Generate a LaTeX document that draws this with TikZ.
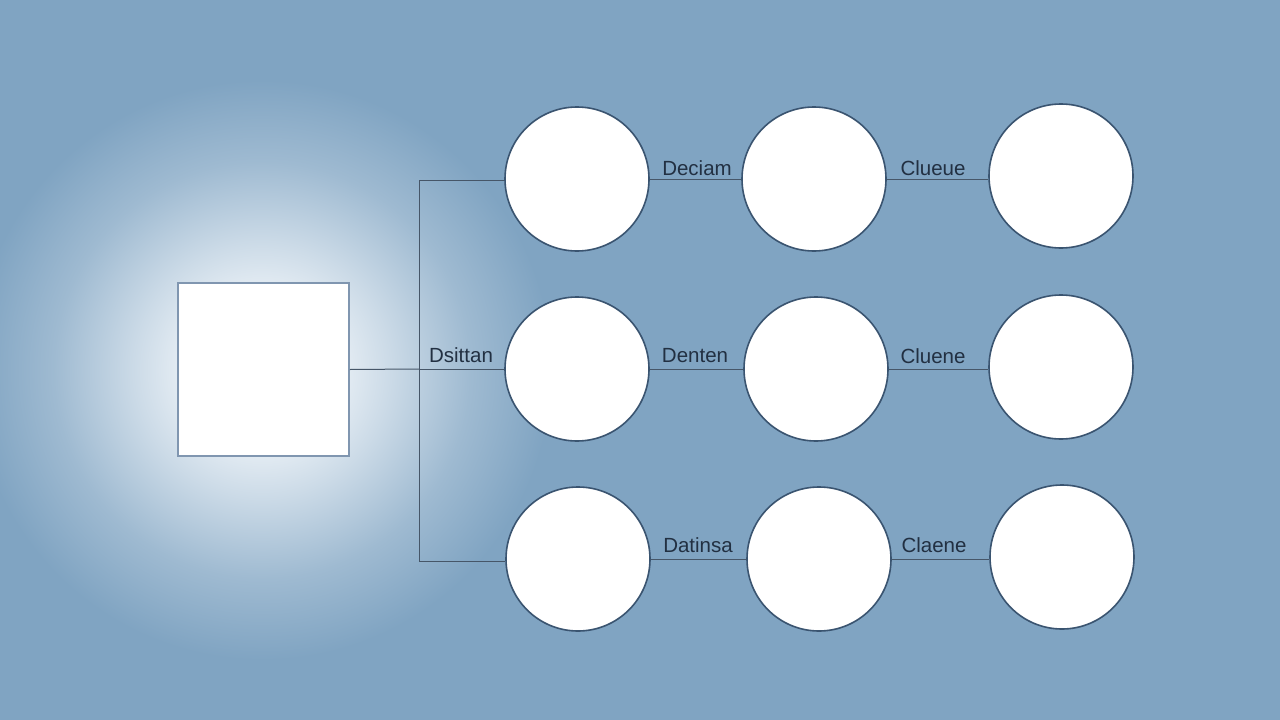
\documentclass[tikz,border=0pt]{standalone}
\usepackage{fontspec}
\setmainfont{Liberation Sans}
\usetikzlibrary{positioning}

\definecolor{bgblue}{RGB}{128,164,194}
\definecolor{glow}{RGB}{250,252,254}
\definecolor{ringcol}{RGB}{58,84,112}
\definecolor{wirecol}{RGB}{70,86,104}
\definecolor{boxedge}{RGB}{128,150,176}
\definecolor{txtcol}{RGB}{34,48,66}

\pgfdeclareradialshading{glowshade}{\pgfpoint{0bp}{0bp}}{%
  color(0bp)=(glow); color(5bp)=(glow!92!bgblue); color(11bp)=(glow!62!bgblue);
  color(18bp)=(glow!25!bgblue); color(25bp)=(bgblue); color(50bp)=(bgblue)}

\begin{document}
\begin{tikzpicture}[x=1pt, y=-1pt,
    ball/.style={circle, draw=ringcol, line width=1.6pt, fill=white, minimum size=144pt, inner sep=0pt},
    wire/.style={draw=wirecol, line width=1pt},
    tag/.style={text=txtcol, font=\fontsize{20.5}{20.5}\selectfont, inner sep=1pt}]
%%%%%%%%%%%%%%%%% background
\fill[bgblue] (0,0) rectangle (1280,720);
\useasboundingbox (0,0) rectangle (1280,720);
\shade[shading=glowshade] (262,370) circle (290);

%%%%%%%%%%%%%%%%% source box
\node[draw=boxedge, line width=1.5pt, fill=white, minimum width=171pt, minimum height=173pt, inner sep=0pt] (src) at (263.5,369.5) {};

%%%%%%%%%%%%%%%%% circles
\node[ball] (c11) at (577,179) {};
\node[ball] (c12) at (814,179) {};
\node[ball] (c13) at (1061,176) {};
\node[ball] (c21) at (577,369) {};
\node[ball] (c22) at (816,369) {};
\node[ball] (c23) at (1061,367) {};
\node[ball] (c31) at (578,559) {};
\node[ball] (c32) at (819,559) {};
\node[ball] (c33) at (1062,557) {};

%%%%%%%%%%%%%%%%% trunk
\coordinate (jt) at (419,180);
\coordinate (jm) at (419,369);
\coordinate (jb) at (419,561);
\draw[wire] (src.east) -- (jm);
\draw[wire] (jt) -- (jb);
\draw[wire] (jt) -- (c11.west |- jt);
\draw[wire] (jm) -- (c21.west |- jm);
\draw[wire] (jb) -- (c31.west |- jb);

%%%%%%%%%%%%%%%%% rows
\draw[wire] (c11) -- (c12);
\draw[wire] (c12) -- (c13.west |- c12);
\draw[wire] (c21) -- (c22);
\draw[wire] (c22) -- (c23.west |- c22);
\draw[wire] (c31) -- (c32);
\draw[wire] (c32) -- (c33.west |- c32);

%%%%%%%%%%%%%%%%% labels
\node[tag] (l0) at (461,355) {Dsittan};
\node[tag] (l1) at (697,168) {Deciam};
\node[tag] (l2) at (933,168) {Clueue};
\node[tag] (l3) at (695,356) {Denten};
\node[tag] (l4) at (933,356) {Cluene};
\node[tag] (l5) at (698,545) {Datinsa};
\node[tag] (l6) at (934,545) {Claene};
\end{tikzpicture}
\end{document}
